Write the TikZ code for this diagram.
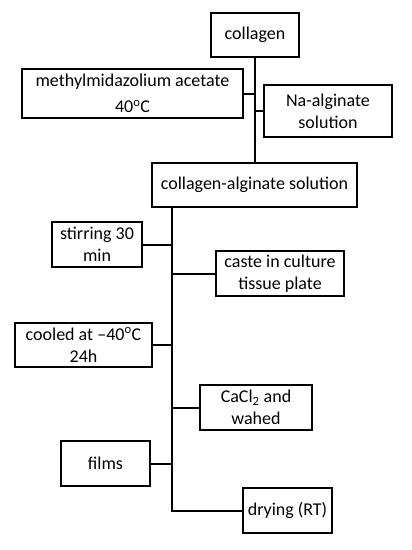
\documentclass[tikz,border=0pt]{standalone}
\usepackage{fontspec}
\setmainfont{Carlito}
\usepackage{tikz}

\tikzset{
    stepbox/.style={draw=black, line width=2pt, align=center, inner sep=0pt,
        font=\fontsize{18}{22}\selectfont},
    link/.style={black, line width=2pt}
}

\begin{document}
\begin{tikzpicture}[x=1pt, y=-1pt]
                \useasboundingbox (0,0) rectangle (412,550);
                \node[stepbox, minimum width=88pt, minimum height=44pt] (collagen) at (255,35) {collagen};
                \node[stepbox, minimum width=221pt, minimum height=49pt] (methyl) at (132.5,93.5) {methylmidazolium acetate\\[4pt] 40\textsuperscript{o}C};
                \node[stepbox, minimum width=128pt, minimum height=52pt] (alginate) at (328,111) {Na-alginate\\ solution};
                \node[stepbox, minimum width=205pt, minimum height=44pt] (mix) at (254.5,185) {collagen-alginate solution};
                \node[stepbox, minimum width=90pt, minimum height=45pt] (stirring) at (97,244.5) {stirring 30\\ min};
                \node[stepbox, minimum width=128pt, minimum height=45pt] (caste) at (280,273.5) {caste in culture\\ tissue plate};
                \node[stepbox, minimum width=137pt, minimum height=44pt] (cooled) at (83.5,345) {cooled at –40\textsuperscript{o}C\\ 24h};
                \node[stepbox, minimum width=112pt, minimum height=45pt] (cacl) at (256,407.5) {CaCl\textsubscript{2} and\\ wahed};
                \node[stepbox, minimum width=89pt, minimum height=45pt] (films) at (105.5,463.5) {films};
                \node[stepbox, minimum width=89pt, minimum height=45pt] (drying) at (287.5,510.5) {drying (RT)};
                \coordinate (spine) at (172,207);
                \draw[link] (collagen.south) -- (collagen.south |- mix.north);
                \draw[link] (methyl.east) -- (methyl.east -| collagen.south);
                \draw[link] (alginate.west) -- (alginate.west -| collagen.south);
                \draw[link] (spine) |- (drying.west);
                \draw[link] (stirring.east) -- (stirring.east -| spine);
                \draw[link] (caste.west) -- (caste.west -| spine);
                \draw[link] (cooled.east) -- (cooled.east -| spine);
                \draw[link] (cacl.west) -- (cacl.west -| spine);
                \draw[link] (films.east) -- (films.east -| spine);
            \end{tikzpicture}
\end{document}
